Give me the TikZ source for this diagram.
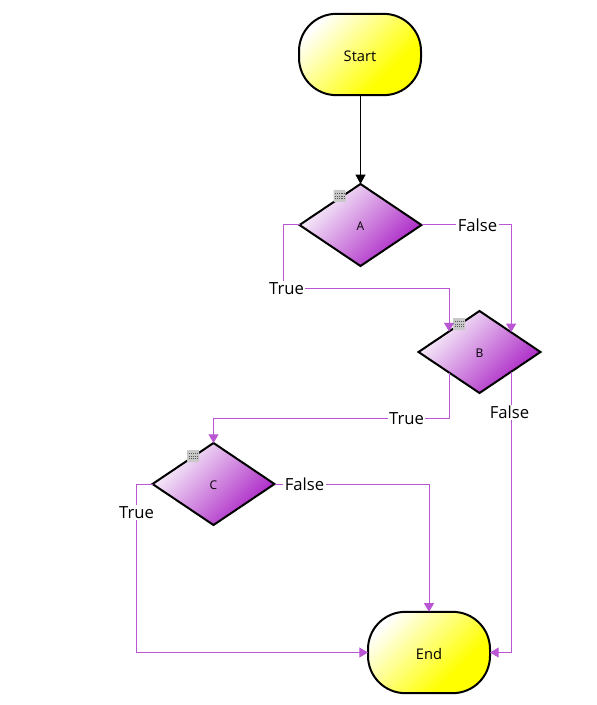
\documentclass[tikz,border=0pt]{standalone}
\usepackage{fontspec}
\setmainfont{Open Sans}
\usetikzlibrary{shapes.geometric,arrows.meta}
\definecolor{cFlow}{HTML}{BA55D3}
\definecolor{cDec}{HTML}{B032C9}
\definecolor{cDecSoft}{HTML}{F3E4F7}
\definecolor{cNote}{HTML}{C8C8C8}
\pgfdeclarehorizontalshading{termfill}{100bp}{color(0bp)=(white); color(24bp)=(white); color(66bp)=(yellow); color(100bp)=(yellow)}
\pgfdeclarehorizontalshading{decfill}{100bp}{color(0bp)=(cDecSoft); color(30bp)=(cDecSoft); color(70bp)=(cDec); color(100bp)=(cDec)}
\tikzset{
  term/.style = {rectangle, rounded corners=28pt, draw=black, line width=1.5pt,
                 shading=termfill, shading angle=-45,
                 minimum width=91.5pt, minimum height=61pt, outer sep=0pt,
                 text height=10pt, text depth=0pt,
                 font=\fontsize{11}{13}\selectfont},
  dec/.style  = {diamond, aspect=1.5, draw=black, line width=1.5pt,
                 shading=decfill, shading angle=-45,
                 minimum width=91.5pt, minimum height=61.5pt, inner sep=0pt, outer sep=0pt,
                 text height=8pt, text depth=0pt,
                 font=\fontsize{9}{11}\selectfont},
  fl/.style   = {-{Triangle[length=6.5pt,width=7.5pt]}, draw=cFlow, line width=0.75pt},
  flk/.style  = {-{Triangle[length=7pt,width=7.5pt]}, draw=black, line width=0.6pt},
  lab/.style  = {fill=white, inner sep=1pt, font=\fontsize{12.5}{15}\selectfont},
  notebox/.style = {rectangle, fill=cNote, minimum size=9pt, inner sep=0pt, rounded corners=0.5pt},
}
\newcommand{\noteicon}[3]{%
  \node[notebox] (#1) at (#2,#3) {};
  \foreach \k in {-2.5,0,2.5}
    \draw[line width=0.7pt, black!65, dash pattern=on 0.9pt off 0.7pt] (#2-4.5,#3+\k) -- (#2+4.5,#3+\k);}

\begin{document}
\begin{tikzpicture}[x=0.75pt, y=-0.75pt]
  \useasboundingbox (0,0) rectangle (596,705);

  \node[term] (start) at (360,54.5) {Start};
  \node[dec] (A) at (360.5,225) {A};
  \node[dec] (B) at (479.5,352) {B};
  \node[dec] (C) at (213.5,484) {C};
  \node[term] (end) at (429,652.5) {End};

  \noteicon{noteA}{339.5}{196}
  \noteicon{noteB}{459}{324}
  \noteicon{noteC}{193}{456}

  \draw[flk] (start.south) -- ++(0,44) -| (A.north);

  \coordinate (aT) at (283.5,288.5);
  \coordinate (bT) at (449.5,418.5);
  \coordinate (cT) at (136.5,652.5);

  \draw[fl] (A.west) -| (aT) -| (B.146);
  \draw[fl] (A.east) -| (B.32);
  \draw[fl] (B.214) |- (bT) -| (C.north);
  \draw[fl] (B.-32) |- (end.east);
  \draw[fl] (C.east) -| (end.north);
  \draw[fl] (C.west) -| (cT) -- (end.west);

  \node[lab] (lAT) at (286.5,288.5) {True};
  \node[lab] (lAF) at (477.5,225.5) {False};
  \node[lab] (lBT) at (406.5,418.5) {True};
  \node[lab] (lBF) at (509.5,412.5) {False};
  \node[lab] (lCF) at (304.5,484.5) {False};
  \node[lab] (lCT) at (136.5,512.5) {True};
\end{tikzpicture}
\end{document}
